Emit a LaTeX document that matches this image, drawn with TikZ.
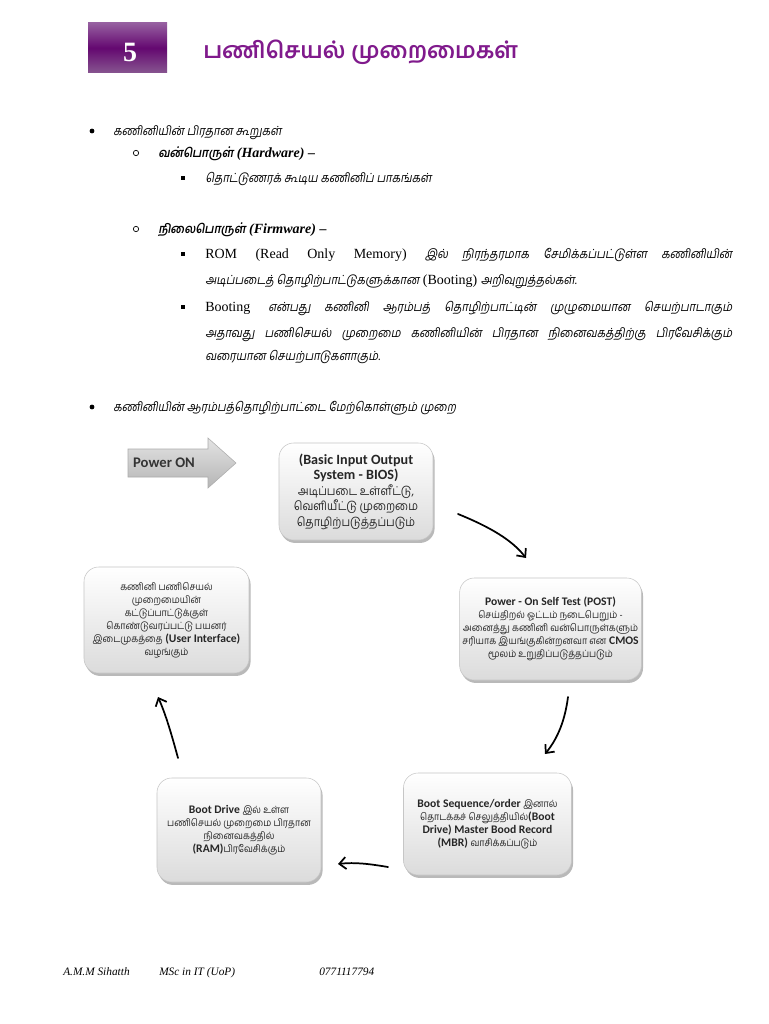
\documentclass[tikz,border=0pt]{standalone}
\usepackage{fontspec}
\setmainfont{Liberation Serif}
\newfontfamily\ta[Script=Tamil]{Hind Madurai}
\newfontfamily\tab[Script=Tamil,Scale=0.86,FakeStretch=0.9]{Hind Madurai}
\newfontfamily\tas[Script=Tamil,FakeSlant=0.18,Scale=0.9,FakeStretch=0.88]{Hind Madurai}
\newfontfamily\cb{Carlito}
\usetikzlibrary{shadows,arrows.meta}
\definecolor{ttl}{RGB}{128,26,140}
\definecolor{pdark}{RGB}{100,8,112}
\definecolor{plight}{RGB}{150,95,160}
\newcommand\T[1]{{\tab\mdseries #1}}
\tikzset{
 stepbox/.style={draw=gray!45, line width=0.4pt, rounded corners=11pt,
   top color=white, bottom color=gray!28,
   drop shadow={shadow xshift=1.2pt, shadow yshift=-2.2pt, opacity=0.55},
   align=center, inner sep=2pt, text=black!85,
   font=\cb\bfseries\fontsize{8.7}{9.75}\selectfont},
 flow/.style={-{Straight Barb[length=5pt,width=9pt]}, line width=1.3pt, line cap=round},
 bodytxt/.style={anchor=base west, inner sep=0pt, font=\fontsize{10.5}{12}\selectfont},
 dot/.style={circle, fill=black, inner sep=0pt, minimum size=3.6pt},
 ring/.style={circle, draw=black, line width=0.5pt, inner sep=0pt, minimum size=4pt},
 sq/.style={rectangle, fill=black, inner sep=0pt, minimum size=3pt},
 foot/.style={anchor=base west, inner sep=0pt, font=\itshape\fontsize{8.5}{10}\selectfont},
}
\begin{document}
\begin{tikzpicture}[x=0.75pt,y=-0.75pt]
\useasboundingbox (0,0) rectangle (768,1024);
\fill[white] (0,0) rectangle (768,1024);

% title
\path[top color=plight, bottom color=plight!90!black, middle color=pdark] (88,23) rectangle (167,73);
\node[text=white, font=\bfseries\fontsize{21}{21}\selectfont] (num) at (130,52) {5};
\node[anchor=west, text=ttl, inner sep=0pt, font=\ta\bfseries\fontsize{17}{20}\selectfont] (title) at (203,52) {பணிசெயல் முறைமைகள்};

% bullets
\node[dot] (d1) at (92,131) {};
\node[bodytxt] (l1) at (113,135) {\tas கணினியின் பிரதான கூறுகள்};
\node[ring] (r1) at (136,153) {};
\node[bodytxt, font=\bfseries\itshape\fontsize{10.5}{12}\selectfont] (l2) at (158,157) {{\tas வன்பொருள்} (Hardware) –};
\node[sq] (s1) at (183,178) {};
\node[bodytxt] (l3) at (205,182) {\tas தொட்டுணரக் கூடிய கணினிப் பாகங்கள்};
\node[ring] (r2) at (136,229) {};
\node[bodytxt, font=\bfseries\itshape\fontsize{10.5}{12}\selectfont] (l4) at (158,233) {{\tas நிலைபொருள்} (Firmware) –};
\node[sq] (s2) at (183,254) {};
\node[bodytxt] (l5) at (205,258) {\makebox[395.25pt][s]{ROM (Read Only Memory) {\tas இல் நிரந்தரமாக சேமிக்கப்பட்டுள்ள கணினியின்}}};
\node[bodytxt] (l6) at (205,284) {{\tas அடிப்படைத் தொழிற்பாட்டுகளுக்கான} (Booting) {\tas அறிவுறுத்தல்கள்.}};
\node[sq] (s3) at (183,307) {};
\node[bodytxt] (l7) at (205,311) {\makebox[395.25pt][s]{Booting {\tas என்பது கணினி ஆரம்பத் தொழிற்பாட்டின் முழுமையான செயற்பாடாகும்}}};
\node[bodytxt] (l8) at (205,337) {\makebox[395.25pt][s]{\tas அதாவது பணிசெயல் முறைமை கணினியின் பிரதான நினைவகத்திற்கு பிரவேசிக்கும்}};
\node[bodytxt] (l9) at (205,360) {\tas வரையான செயற்பாடுகளாகும்.};
\node[dot] (d2) at (92,407) {};
\node[bodytxt] (l10) at (113,411) {\tas கணினியின் ஆரம்பத்தொழிற்பாட்டை மேற்கொள்ளும் முறை};

% power on arrow
\path[draw=gray!65, line width=0.4pt, top color=gray!22, bottom color=gray!58]
  (128,449) -- (208,449) -- (208,438) -- (236,463) -- (208,488) -- (208,477) -- (128,477) -- cycle;
\node[text=black!80, font=\cb\bfseries\fontsize{11}{12}\selectfont] (pwr) at (164,463) {Power ON};

% boxes
\node[stepbox, minimum width=115.5pt, minimum height=72.75pt, font=\cb\bfseries\fontsize{10.6}{11.6}\selectfont] (bios) at (356,491.5)
 {(Basic Input Output\\System - BIOS)\\\T{அடிப்படை உள்ளீட்டு,}\\\T{வெளியீட்டு முறைமை}\\\T{தொழிற்படுத்தப்படும்}};
\node[stepbox, minimum width=123.75pt, minimum height=76.5pt] (post) at (550.5,629)
 {Power - On Self Test (POST)\\\T{செய்திறல் ஓட்டம் நடைபெறும் -}\\\T{அனைத்து கணினி வன்பொருள்களும்}\\\T{சரியாக இயங்குகின்றனவா என} CMOS\\\T{மூலம் உறுதிப்படுத்தப்படும்}};
\node[stepbox, minimum width=126pt, minimum height=76.5pt] (seq) at (487.5,824)
 {Boot Sequence/order \T{இனால்}\\\T{தொடக்கச் செலுத்தியில்}(Boot\\Drive) Master Bood Record\\(MBR) \T{வாசிக்கப்படும்}};
\node[stepbox, minimum width=123pt, minimum height=78pt] (drive) at (239,830)
 {Boot Drive \T{இல் உள்ள}\\\T{பணிசெயல் முறைமை பிரதான}\\\T{நினைவகத்தில்}\\(RAM)\T{பிரவேசிக்கும்}};
\node[stepbox, minimum width=123.75pt, minimum height=79.5pt] (ui) at (166.5,620)
 {\T{கணினி பணிசெயல்}\\\T{முறைமையின்}\\\T{கட்டுப்பாட்டுக்குள்}\\\T{கொண்டுவரப்பட்டு பயனர்}\\\T{இடைமுகத்தை} (User Interface)\\\T{வழங்கும்}};

% connectors
\coordinate (a1s) at (458,514); \coordinate (a1e) at (526,558);
\coordinate (a2s) at (568,697); \coordinate (a2e) at (545,754);
\coordinate (a3s) at (388,867); \coordinate (a3e) at (338,864);
\coordinate (a4s) at (178,758); \coordinate (a4e) at (158,697);
\draw[flow] (a1s) .. controls (490,527) and (512,540) .. (a1e);
\draw[flow] (a2s) .. controls (565,720) and (558,738) .. (a2e);
\draw[flow] (a3s) .. controls (370,864) and (355,862) .. (a3e);
\draw[flow] (a4s) .. controls (172,736) and (166,715) .. (a4e);

% footer
\node[foot] (f1) at (63,975) {A.M.M Sihatth};
\node[foot] (f2) at (159,975) {MSc in IT (UoP)};
\node[foot] (f3) at (319,975) {0771117794};
\end{tikzpicture}
\end{document}
